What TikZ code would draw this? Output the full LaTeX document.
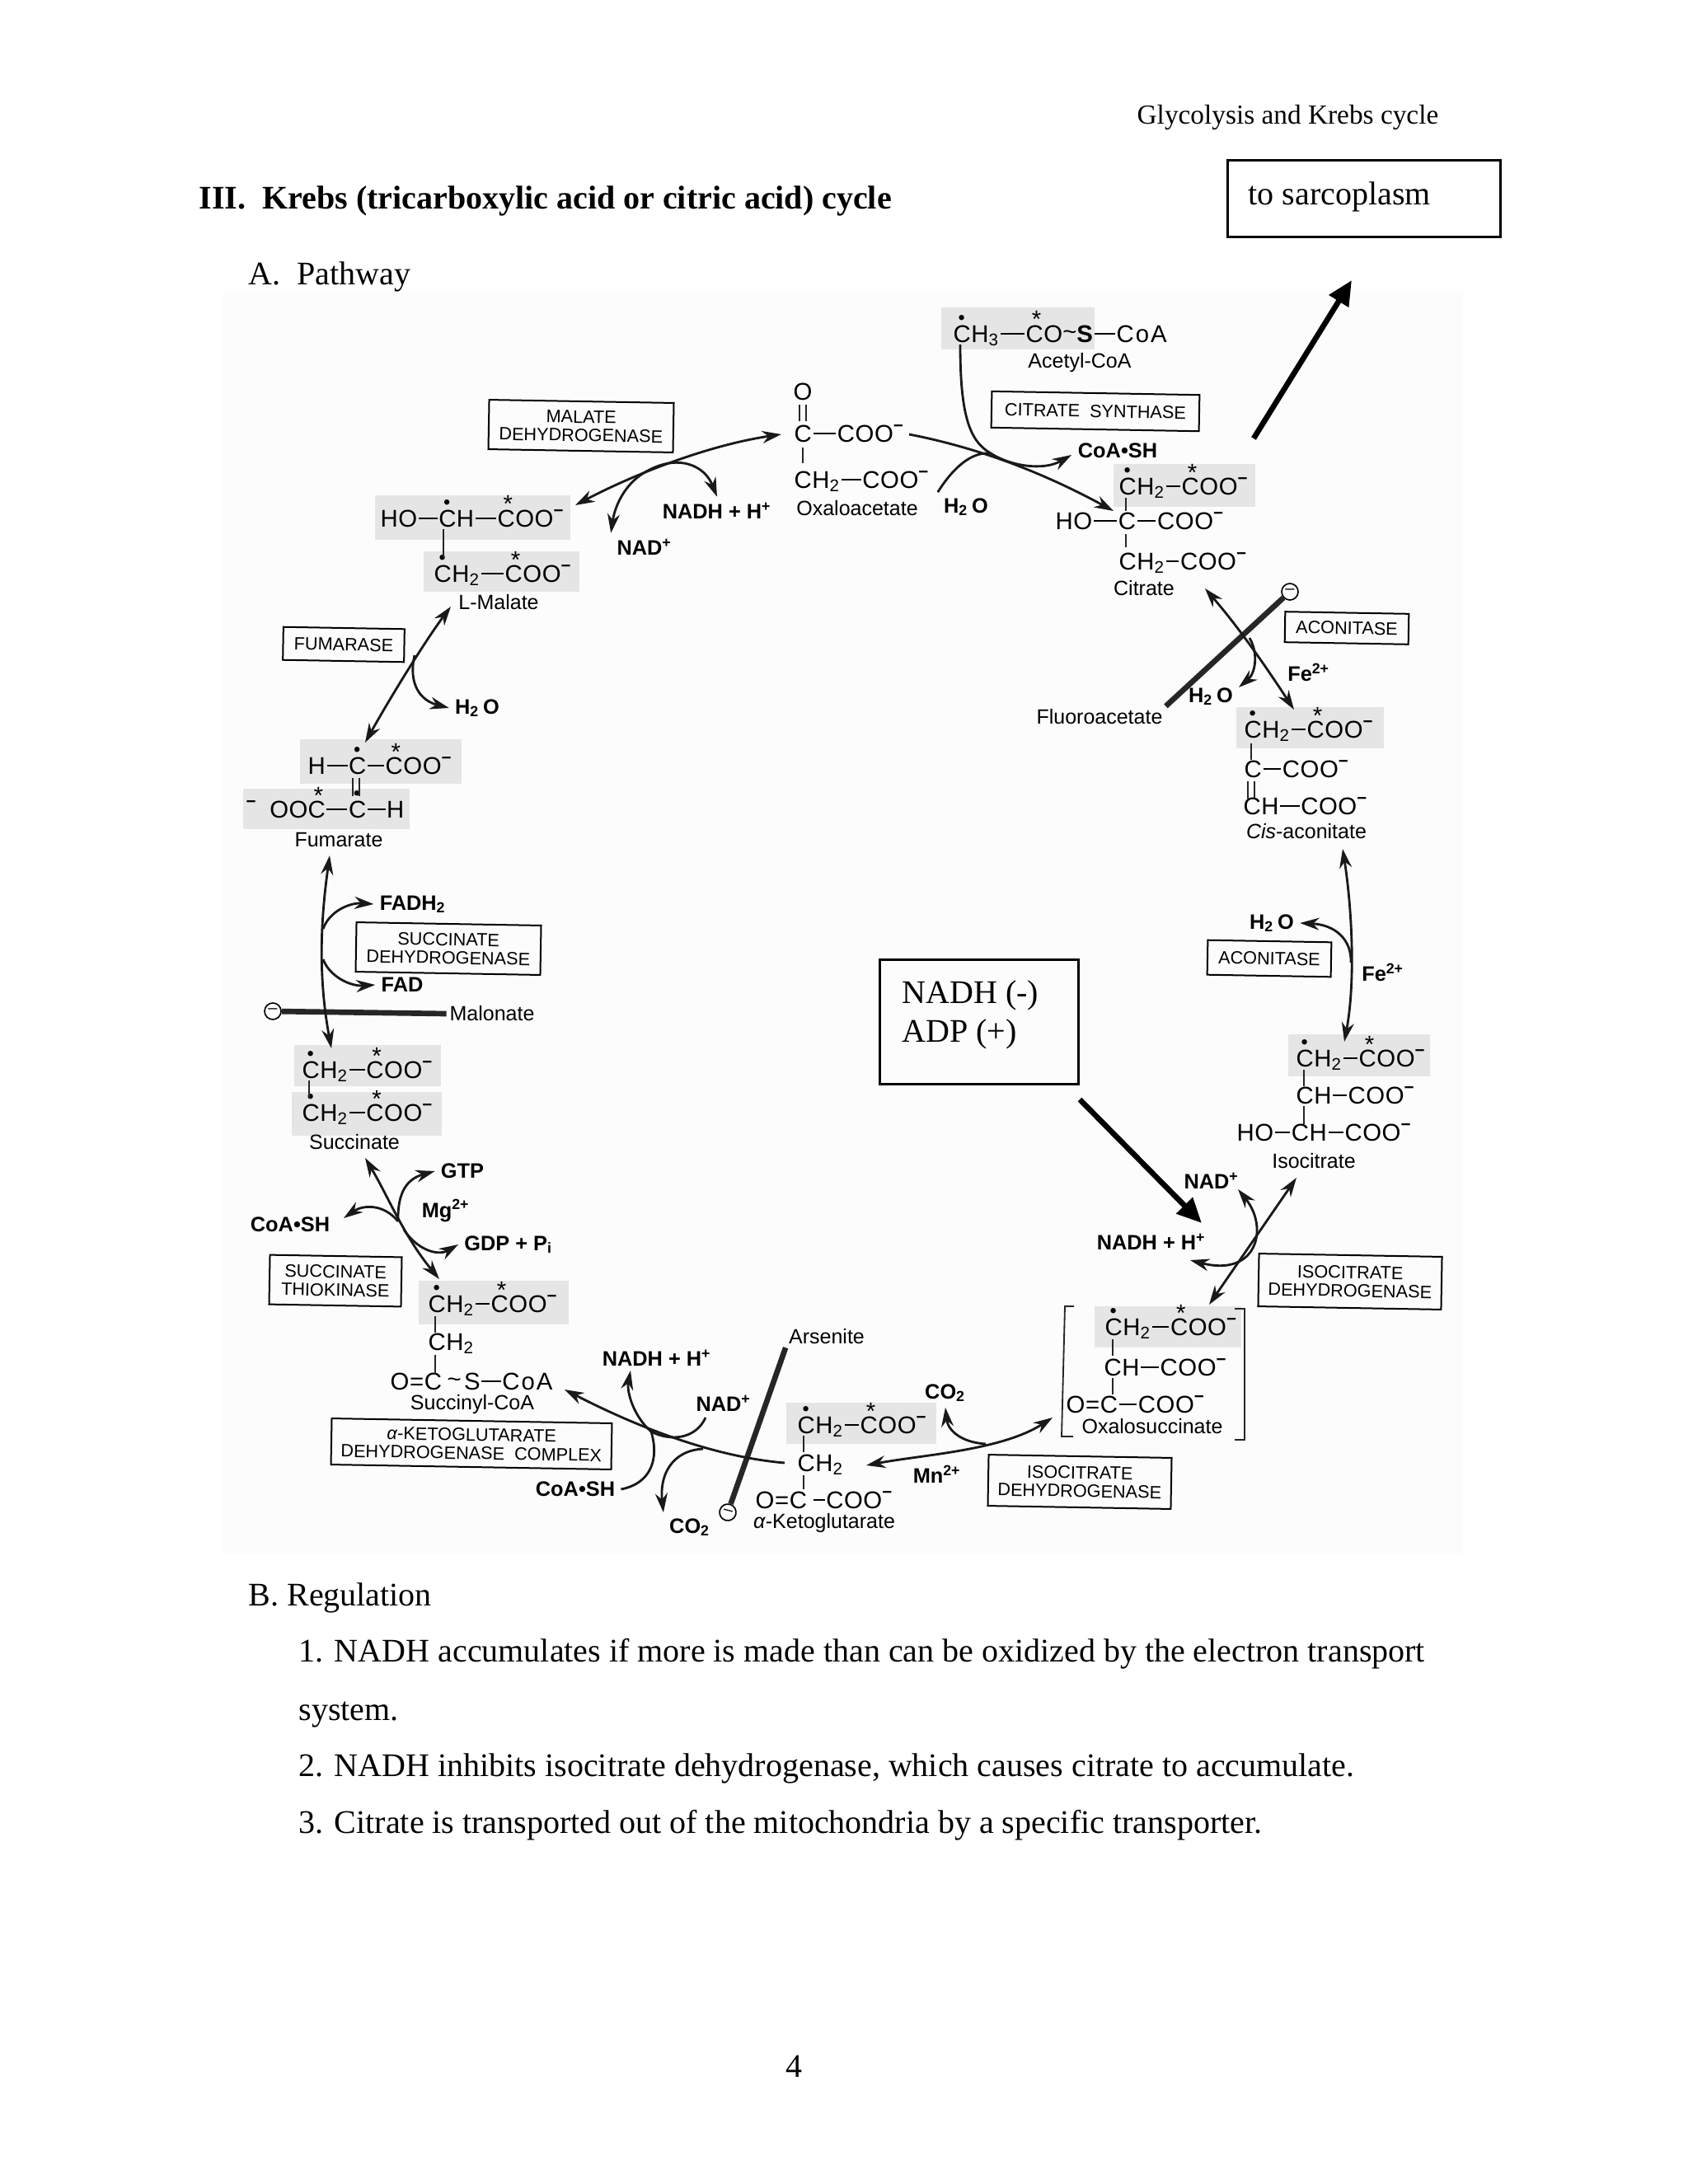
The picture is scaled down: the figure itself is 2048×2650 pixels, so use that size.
\documentclass[tikz,border=0pt]{standalone}
\usepackage{fontspec}
\setmainfont{Liberation Serif}
\newfontfamily\molfont{Liberation Sans}
\usetikzlibrary{arrows.meta}
\newcommand{\dC}{\makebox[0pt][l]{\hspace{.2em}\smash{\raisebox{.72em}{\scalebox{.8}{\textbullet}}}}C}
\newcommand{\sC}{\makebox[0pt][l]{\hspace{.24em}\smash{\raisebox{.58em}{*}}}C}
\newcommand{\hb}[1][5pt]{\hspace{.5pt}\rule[.3em]{#1}{.65pt}\hspace{.5pt}}
\newcommand{\sub}[1]{\textsubscript{#1}}
\newcommand{\mi}{\textsuperscript{\bfseries −}}
\newcommand{\coo}{COO\mi}
\newcommand{\scoo}{\sC OO\mi}
\newcommand{\tld}{\raisebox{.1em}{\textasciitilde}}
\begin{document}
\begin{tikzpicture}[x=0.3pt,y=-0.3pt,
  body/.style={anchor=base west,inner sep=0pt,font=\fontsize{12}{14}\selectfont},
  mol/.style={anchor=base west,inner sep=0pt,font=\molfont\addfontfeature{LetterSpace=2}\fontsize{8.8}{9}\selectfont},
  nam/.style={inner sep=1pt,font=\molfont\fontsize{7.5}{8}\selectfont},
  lab/.style={inner sep=2pt,font=\molfont\bfseries\fontsize{7.6}{8}\selectfont},
  enz/.style 2 args={draw,line width=.6pt,rotate=-1,align=center,inner sep=0pt,minimum width=#1*.3pt,minimum height=#2*.3pt,font=\molfont\fontsize{6.5}{6.7}\selectfont},
  tbox/.style={draw,line width=.7pt,inner sep=0pt},
  inhc/.style={circle,draw,line width=.5pt,fill=white,inner sep=0pt,minimum size=6pt,font=\molfont\fontsize{6}{6}\selectfont},
  e/.style={line width=.85pt,black!90,-{Stealth[length=7pt,width=4.5pt]}},
  ee/.style={line width=.85pt,black!90,{Stealth[length=7pt,width=4.5pt]}-{Stealth[length=7pt,width=4.5pt]}},
  n/.style={line width=.85pt,black!90},
  bnd/.style={line width=.55pt,black!85},
  inh/.style={line width=2pt,black!85},
  big/.style={line width=2pt,-{Triangle[length=9pt,width=8pt]}}]
  \useasboundingbox (0,0) rectangle (2048,2650);
  \fill[black!1] (270,355) rectangle (1775,1885);
  \foreach \xa/\ya/\xb/\yb in {1142/373/1328/424,1351/563/1523/615,1500/858/1679/908,1563/1255/1735/1306,
    1328/1585/1506/1635,954/1702/1136/1752,508/1554/690/1607,357/1268/535/1318,354/1325/536/1378,
    364/897/560/951,295/957/497/1006,455/601/692/655,514/669/703/718}
    \fill[black!10] (\xa,\ya) rectangle (\xb,\yb);

  \node[body,font=\fontsize{10}{12}\selectfont] (hdr) at (1379,150) {Glycolysis and Krebs cycle};
  \node[body,font=\bfseries\fontsize{12}{14}\selectfont] (ttl) at (241,253) {III.\ \ Krebs (tricarboxylic acid or citric acid) cycle};
  \node[body] (apw) at (301,345) {A.\ \ Pathway};
  \node[tbox,minimum width=99.3pt,minimum height=27.9pt] (sarbox) at (1655,241) {};
  \node[body] (sartx) at (1514,248) {to sarcoplasm};
  \node[tbox,minimum width=72.3pt,minimum height=45.3pt] (regbox) at (1188,1240) {};
  \node[body,anchor=north west,align=left] (regtx) at (1094,1189) {NADH (-)\\ADP (+)};
  \node[body] (bhd) at (301,1948) {B. Regulation};
  \node[body] (r1) at (362,2016) {1. NADH accumulates if more is made than can be oxidized by the electron transport};
  \node[body] (r1b) at (362,2087) {system.};
  \node[body] (r2) at (362,2155) {2. NADH inhibits isocitrate dehydrogenase, which causes citrate to accumulate.};
  \node[body] (r3) at (362,2224) {3. Citrate is transported out of the mitochondria by a specific transporter.};
  \node[body] (pgn) at (953,2520) {4};

  \node[mol] (ac1) at (1156,415) {\dC H\sub{3}\hb[8.6pt]\sC O\tld{\bfseries S}\hb[7.6pt]C\kern.6pt o\kern.6pt A};
  \node[nam] (ac2) at (1310,440) {Acetyl-CoA};
  \node[enz={252}{44}] (cs) at (1329,499) {CITRATE\ \ SYNTHASE};
  \node[lab] (coa1) at (1356,547) {CoA•SH};
  \node[lab] (wa1) at (1172,615) {H\sub{2}\,O};

  \node[mol] (ci1) at (1357,600) {\dC H\sub{2}\hb\scoo};
  \node[mol] (ci2) at (1280,642) {HO\hb[8.5pt]C\hb[6.8pt]\coo};
  \node[mol] (ci3) at (1357,691) {CH\sub{2}\hb[4.5pt]\coo};
  \node[nam] (ci4) at (1388,714) {Citrate};
  \node[enz={150}{37}] (ac) at (1634,762) {ACONITASE};
  \node[lab] (fe1) at (1588,816) {Fe\textsuperscript{2+}};
  \node[lab] (wa2) at (1469,845) {H\sub{2}\,O};
  \node[nam] (fluo) at (1334,870) {Fluoroacetate};
  \node[inhc] (inh1) at (1565,718) {–};

  \node[mol] (ca1) at (1509,895) {\dC H\sub{2}\hb\scoo};
  \node[mol] (ca2) at (1509,943) {C\hb[6.5pt]\coo};
  \node[mol] (ca3) at (1508,988) {CH\hb[7pt]\coo};
  \node[nam] (ca4) at (1585,1009) {\textit{Cis}-aconitate};
  \node[lab] (wa3) at (1543,1120) {H\sub{2}\,O};
  \node[enz={150}{42}] (ac2b) at (1540,1163) {ACONITASE};
  \node[lab] (fe2) at (1678,1180) {Fe\textsuperscript{2+}};

  \node[mol] (ic1) at (1572,1294) {\dC H\sub{2}\hb\scoo};
  \node[mol] (ic2) at (1572,1339) {CH\hb\coo};
  \node[mol] (ic3) at (1500,1384) {HO\hb[5.5pt]CH\hb[5.5pt]\coo};
  \node[nam] (ic4) at (1594,1409) {Isocitrate};
  \node[lab] (nad3) at (1470,1433) {NAD\textsuperscript{+}};
  \node[lab] (nh3) at (1397,1507) {NADH + H\textsuperscript{+}};
  \node[enz={222}{64}] (idh1) at (1638,1555) {ISOCITRATE\\DEHYDROGENASE};

  \node[mol] (os1) at (1340,1620) {\dC H\sub{2}\hb[6pt]\scoo};
  \node[mol] (os2) at (1339,1669) {CH\hb[6.5pt]\coo};
  \node[mol] (os3) at (1293,1714) {O=C\hb[6.5pt]\coo};
  \node[nam] (os4) at (1398,1731) {Oxalosuccinate};
  \node[enz={222}{62}] (idh2) at (1310,1798) {ISOCITRATE\\DEHYDROGENASE};
  \node[lab] (mn) at (1137,1789) {Mn\textsuperscript{2+}};
  \node[lab] (co2b) at (1147,1690) {CO\sub{2}};

  \node[mol] (kg1) at (967,1739) {\dC H\sub{2}\hb\scoo};
  \node[mol] (kg2) at (967,1785) {CH\sub{2}};
  \node[mol] (kg3) at (916,1830) {O=C\hspace{2pt}\hb[4pt]\coo};
  \node[nam] (kg4) at (1000,1848) {\textit{α}-Ketoglutarate};
  \node[nam] (arsn) at (1003,1622) {Arsenite};
  \node[inhc,rotate=-15] (inh3) at (883,1835) {–};
  \node[lab] (co2a) at (837,1853) {CO\sub{2}};
  \node[lab] (nadk) at (878,1703) {NAD\textsuperscript{+}};
  \node[lab] (nhk) at (797,1648) {NADH + H\textsuperscript{+}};
  \node[lab] (cok) at (698,1807) {CoA•SH};
  \node[enz={340}{56}] (kgd) at (572,1752) {\textit{α}-KETOGLUTARATE\\DEHYDROGENASE\ \ COMPLEX};

  \node[mol] (sc1) at (519,1592) {\dC H\sub{2}\hb\scoo};
  \node[mol] (sc2) at (519,1638) {CH\sub{2}};
  \node[mol] (sc3) at (473,1686) {O=C\hspace{2pt}\tld\hspace{1pt}S\hb[7pt]C\kern.6pt o\kern.6pt A};
  \node[nam] (sc4) at (573,1704) {Succinyl-CoA};
  \node[enz={160}{60}] (stk) at (407,1554) {SUCCINATE\\THIOKINASE};
  \node[lab] (gdp) at (617,1510) {GDP + P\sub{i}};
  \node[lab] (mg) at (541,1469) {Mg\textsuperscript{2+}};
  \node[lab] (gtp) at (561,1421) {GTP};
  \node[lab] (cos) at (352,1486) {CoA•SH};

  \node[mol] (su1) at (366,1308) {\dC H\sub{2}\hb[5.5pt]\scoo};
  \node[mol] (su2) at (366,1360) {\dC H\sub{2}\hb[5.5pt]\scoo};
  \node[nam] (su3) at (430,1386) {Succinate};
  \node[nam] (malo) at (597,1230) {Malonate};
  \node[inhc] (inh2) at (331,1227) {–};
  \node[lab] (fad) at (488,1195) {FAD};
  \node[lab] (fadh) at (501,1097) {FADH\sub{2}};
  \node[enz={224}{60}] (sdh) at (544,1151) {SUCCINATE\\DEHYDROGENASE};

  \node[nam] (fu3) at (411,1019) {Fumarate};
  \node[mol] (fu1) at (373,939) {H\hb[7.5pt]\dC\hb[6pt]\scoo};
  \node[mol] (fu2) at (298,992) {\mi\hspace{4.5pt}OO\sC\hb[7.5pt]\dC\hb[6.5pt]H};
  \node[lab] (wa4) at (579,859) {H\sub{2}\,O};
  \node[enz={147}{40}] (fum) at (417,782) {FUMARASE};

  \node[nam] (ma3) at (605,731) {L-Malate};
  \node[mol] (ma1) at (461,639) {HO\hb[6.8pt]\dC H\hb[7.5pt]\scoo};
  \node[mol] (ma2) at (526,706) {\dC H\sub{2}\hb[8pt]\scoo};
  \node[lab] (nadm) at (782,664) {NAD\textsuperscript{+}};
  \node[lab] (nhm) at (870,620) {NADH + H\textsuperscript{+}};
  \node[enz={224}{60}] (mdh) at (705,517) {MALATE\\DEHYDROGENASE};

  \node[mol,anchor=base] (ox1) at (974,485) {O};
  \node[mol] (ox2) at (963,536) {C\hb[8.3pt]\coo};
  \node[mol] (ox3) at (963,592) {CH\sub{2}\hb[7pt]\coo};
  \node[nam] (ox4) at (1040,617) {Oxaloacetate};

  \foreach \xb/\ya/\yb in {1366/604/620,1366/648/664,1518/902/922,1582/1298/1318,1582/1342/1364,1350/1625/1645,1350/1672/1692,
    975/1742/1762,975/1790/1807,528/1597/1617,528/1644/1668,375/1311/1333,538/642/677,974/543/562,
    970/491/511,978/491/511,1514/948/969,1522/948/969,428/944/966,436/944/966}
    \draw[bnd] (\xb,\ya) -- (\xb,\yb);
  \draw[bnd] (1303,1585) -- (1292,1585) -- (1288,1743) -- (1302,1743);
  \draw[bnd] (1498,1588) -- (1510,1588) -- (1510,1747) -- (1498,1747);

  \foreach \nm/\xx/\yy in {jmd/790/569,jcs/1202/550,jac/1516/774,wat/1503/834,jac2/1639/1168,jid/1196/1752,jkg/790/1737,jkg2/853/1758,
    jst/483/1482,jfm/503/795,jsd/392/1127,jsd2/392/1164,oxt/948/527,mlt/698/613,acs/1165/418,oxo/1103/527,cin/1351/620,
    cso/1300/552,cit/1462/714,cis/1570/861,cau/1629/1030,icu/1631/1264,ict/1573/1429,osu/1467/1583,nat/1502/1443,
    nht/1444/1529,kgr/1051/1778,osl/1277/1720,kgo/952/1775,sct/685/1686,nki/856/1720,nko/765/1663,sut/443/1405,
    sck/533/1552,cot/417/1478,gdj/490/1492,fud/400/1038,sud/402/1272,mau/547/736,fub/443/901,
    sar1/1521/532,sar2/1640/340,reg1/1310/1334,reg2/1458/1484}
    \coordinate (\nm) at (\xx,\yy);

  \draw[big] (sar1) -- (sar2);
  \draw[big] (reg1) -- (reg2);
  \draw[inh] (fluo.north east) -- (inh1);
  \draw[inh] (inh2) -- (malo.west);
  \draw[inh] (inh3) -- (arsn.south west);

  \draw[ee] (oxt) .. controls (860,540) and (770,575) .. (mlt);
  \draw[e] (jmd) .. controls (825,552) and (855,565) .. (nhm.north);
  \draw[e] (jmd) .. controls (755,585) and (745,620) .. (nadm.north west);
  \draw[e] (acs) .. controls (1165,500) and (1175,535) .. (jcs) .. controls (1225,565) and (1265,572) .. (cso);
  \draw[e] (oxo) .. controls (1170,540) and (1250,565) .. (cin);
  \draw[n] (wa1.north west) .. controls (1158,565) and (1180,548) .. (jcs);
  \draw[ee] (cit) .. controls (1500,758) and (1530,800) .. (cis);
  \draw[e] (jac) .. controls (1528,795) and (1522,818) .. (wat);
  \draw[ee] (cau) .. controls (1640,1100) and (1645,1190) .. (icu);
  \draw[e] (jac2) .. controls (1640,1140) and (1620,1122) .. (wa3.east);
  \draw[ee] (ict) -- (osu);
  \draw[ee] (nat) .. controls (1540,1490) and (1525,1550) .. (nht);
  \draw[ee] (kgr) .. controls (1120,1765) and (1215,1760) .. (osl);
  \draw[e] (jid) .. controls (1165,1750) and (1150,1735) .. (co2b.south);
  \draw[e] (kgo) .. controls (870,1768) and (780,1735) .. (sct);
  \draw[e] (nki) .. controls (845,1745) and (815,1750) .. (jkg) .. controls (770,1720) and (760,1690) .. (nko);
  \draw[n] (cok.east) .. controls (790,1800) and (800,1770) .. (jkg);
  \draw[e] (jkg2) .. controls (815,1760) and (800,1790) .. (co2a.north west);
  \draw[ee] (sut) .. controls (470,1450) and (490,1500) .. (sck);
  \draw[e] (jst) .. controls (482,1445) and (495,1430) .. (gtp.west);
  \draw[e] (jst) .. controls (465,1460) and (440,1462) .. (cot);
  \draw[e] (gdj) .. controls (505,1515) and (530,1525) .. (gdp.west);
  \draw[ee] (fud) .. controls (390,1110) and (385,1180) .. (sud);
  \draw[e] (jsd) .. controls (400,1105) and (425,1095) .. (fadh.west);
  \draw[e] (jsd2) .. controls (400,1185) and (425,1197) .. (fad.west);
  \draw[ee] (mau) .. controls (520,772) and (480,835) .. (fub);
  \draw[e] (jfm) .. controls (495,830) and (510,850) .. (wa4.west);
\end{tikzpicture}
\end{document}
